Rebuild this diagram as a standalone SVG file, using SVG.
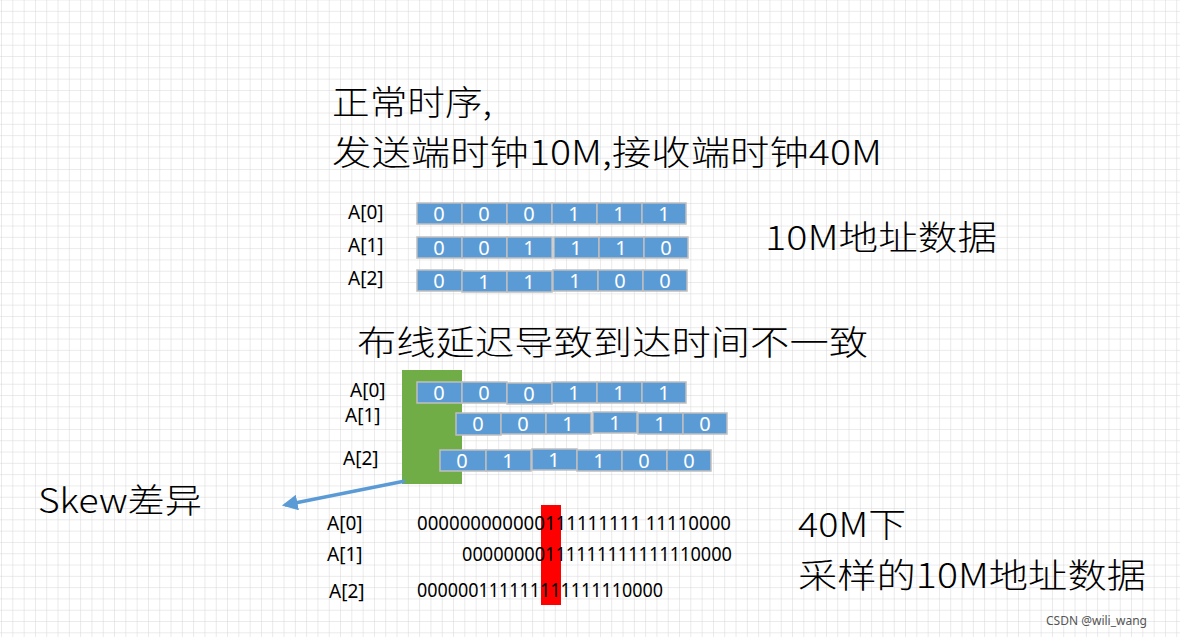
<svg xmlns="http://www.w3.org/2000/svg" width="1180" height="637" viewBox="0 0 1180 637">
<defs>
<pattern id="g" x="2" y="0.5" width="11.3" height="11.3" patternUnits="userSpaceOnUse">
<path d="M11.3 0V11.3M0 11.3H11.3" fill="none" stroke="#d6d6d6" stroke-width="1"/>
</pattern>
<marker id="ah" viewBox="0 0 10 10" refX="8" refY="5" markerWidth="4.5" markerHeight="4.5" orient="auto"><path d="M0 0L10 5L0 10z" fill="#5B9BD5"/></marker>
</defs>
<style>
text{font-family:"Noto Sans CJK SC","Noto Sans",sans-serif;fill:#000}
.c{fill:#5B9BD5;stroke:#bfbfbf;stroke-width:1.5}
.v{fill:#fff;font-size:20px;text-anchor:middle;font-family:"Noto Sans",sans-serif}
.l{font-size:19px;font-family:"Noto Sans",sans-serif}
.s{font-size:19px;font-family:"Noto Sans",sans-serif}
.h{font-size:34px;font-weight:300}
</style>
<rect width="1180" height="637" fill="#fff"/>
<rect width="1180" height="637" fill="url(#g)"/>
<g id="title"><text x="332" y="115" class="h" textLength="160" lengthAdjust="spacingAndGlyphs">正常时序,</text><text x="332" y="165" class="h" textLength="550" lengthAdjust="spacingAndGlyphs">发送端时钟10M,接收端时钟40M</text></g>
<g id="label10M"><text x="765" y="250" class="h" textLength="232" lengthAdjust="spacingAndGlyphs">10M地址数据</text></g>
<g id="labelSkewTitle"><text x="357" y="355" class="h" textLength="511" lengthAdjust="spacingAndGlyphs">布线延迟导致到达时间不一致</text></g>
<g id="labelSkew"><text x="38" y="513" class="h" textLength="164" lengthAdjust="spacingAndGlyphs">Skew差异</text></g>
<g id="label40M"><text x="798" y="537" class="h" textLength="108" lengthAdjust="spacingAndGlyphs">40M下</text><text x="798" y="588" class="h" textLength="348" lengthAdjust="spacingAndGlyphs">采样的10M地址数据</text></g>
<g id="normal">
<text x="348" y="219" class="l">A[0]</text><text x="348" y="252" class="l">A[1]</text><text x="348" y="285" class="l">A[2]</text>
<g>
<rect class="c" x="417" y="203" width="45" height="21"/><rect class="c" x="462" y="203" width="45" height="21"/><rect class="c" x="507" y="203" width="45" height="21"/><rect class="c" x="552" y="203" width="45" height="21"/><rect class="c" x="597" y="203" width="45" height="21"/><rect class="c" x="642" y="203" width="44" height="21"/>
<text class="v" x="439" y="221">0</text><text class="v" x="484" y="221">0</text><text class="v" x="529" y="221">0</text><text class="v" x="574" y="221">1</text><text class="v" x="619" y="221">1</text><text class="v" x="664" y="221">1</text>
</g>
<g>
<rect class="c" x="417" y="237" width="45" height="21"/><rect class="c" x="462" y="237" width="45" height="21"/><rect class="c" x="507" y="237" width="45" height="21"/><rect class="c" x="554" y="237" width="45" height="21"/><rect class="c" x="599" y="237" width="45" height="21"/><rect class="c" x="644" y="237" width="44" height="21"/>
<text class="v" x="439" y="255">0</text><text class="v" x="484" y="255">0</text><text class="v" x="529" y="255">1</text><text class="v" x="576" y="255">1</text><text class="v" x="621" y="255">1</text><text class="v" x="666" y="255">0</text>
</g>
<g>
<rect class="c" x="417" y="270" width="45" height="21"/><rect class="c" x="462" y="271" width="45" height="21"/><rect class="c" x="507" y="271" width="45" height="21"/><rect class="c" x="553" y="270" width="45" height="21"/><rect class="c" x="598" y="270" width="45" height="21"/><rect class="c" x="643" y="270" width="44" height="21"/>
<text class="v" x="439" y="288">0</text><text class="v" x="484" y="289">1</text><text class="v" x="529" y="289">1</text><text class="v" x="575" y="288">1</text><text class="v" x="620" y="288">0</text><text class="v" x="665" y="288">0</text>
</g>
</g>
<g id="skew">
<rect x="402" y="370" width="60" height="114" fill="#70AD47"/>
<text x="350" y="397" class="l">A[0]</text><text x="345" y="422" class="l">A[1]</text><text x="343" y="465" class="l">A[2]</text>
<g>
<rect class="c" x="417" y="382" width="45" height="21"/><rect class="c" x="462" y="382" width="45" height="21"/><rect class="c" x="507" y="383" width="45" height="21"/><rect class="c" x="552" y="382" width="45" height="21"/><rect class="c" x="597" y="382" width="45" height="21"/><rect class="c" x="642" y="382" width="44" height="21"/>
<text class="v" x="439" y="400">0</text><text class="v" x="484" y="400">0</text><text class="v" x="529" y="401">0</text><text class="v" x="574" y="400">1</text><text class="v" x="619" y="400">1</text><text class="v" x="664" y="400">1</text>
</g>
<g>
<rect class="c" x="456" y="413" width="45" height="22"/><rect class="c" x="501" y="413" width="45" height="21"/><rect class="c" x="546" y="413" width="45" height="21"/><rect class="c" x="593" y="412" width="44" height="21"/><rect class="c" x="638" y="413" width="45" height="21"/><rect class="c" x="683" y="413" width="44" height="21"/>
<text class="v" x="478" y="431">0</text><text class="v" x="523" y="431">0</text><text class="v" x="568" y="431">1</text><text class="v" x="615" y="430">1</text><text class="v" x="660" y="431">1</text><text class="v" x="705" y="431">0</text>
</g>
<g>
<rect class="c" x="440" y="450" width="46" height="21"/><rect class="c" x="486" y="450" width="45" height="21"/><rect class="c" x="532" y="449" width="45" height="21"/><rect class="c" x="577" y="450" width="45" height="21"/><rect class="c" x="622" y="450" width="45" height="21"/><rect class="c" x="667" y="450" width="44" height="21"/>
<text class="v" x="462" y="468">0</text><text class="v" x="508" y="468">1</text><text class="v" x="554" y="467">1</text><text class="v" x="599" y="468">1</text><text class="v" x="644" y="468">0</text><text class="v" x="689" y="468">0</text>
</g>
</g>
<g id="connectors">
<line x1="405" y1="481" x2="285" y2="505" stroke="#5B9BD5" stroke-width="3.5" marker-end="url(#ah)"/>
</g>
<g id="sample">
<rect x="541" y="505" width="20" height="100" fill="#ff0000"/>
<text x="327" y="530" class="l">A[0]</text><text x="327" y="561" class="l">A[1]</text><text x="329" y="598" class="l">A[2]</text>
<text x="417" y="530" class="s" textLength="314" lengthAdjust="spacingAndGlyphs">000000000000111111111 11110000</text>
<text x="462" y="561" class="s" textLength="270" lengthAdjust="spacingAndGlyphs">00000000111111111111110000</text>
<text x="417" y="597" class="s" textLength="246" lengthAdjust="spacingAndGlyphs">000000111111111111110000</text>
</g>
<text x="1046" y="625" font-size="12" style="font-family:'Noto Sans',sans-serif;fill:#555">CSDN @wili_wang</text>
</svg>
